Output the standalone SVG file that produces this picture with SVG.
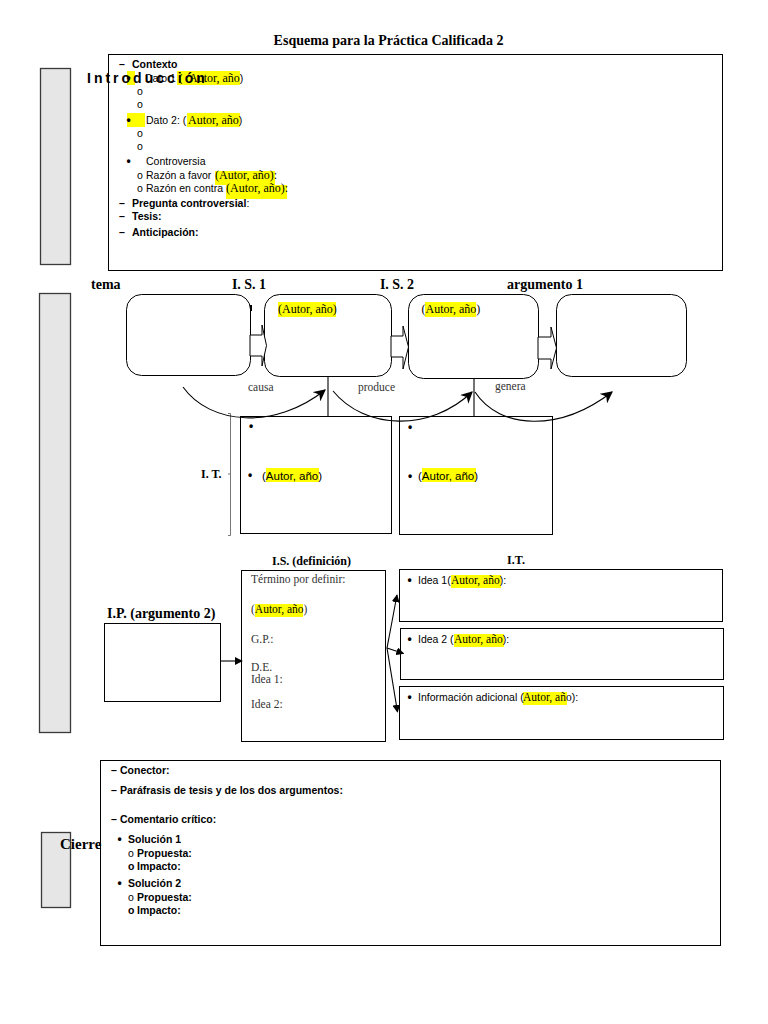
<svg xmlns="http://www.w3.org/2000/svg" width="768" height="1024" viewBox="0 0 768 1024">
<style>
.bar{fill:#e6e6e6;stroke:#3a3a3a;stroke-width:1.3}
.box{fill:#fff;stroke:#000;stroke-width:1}
.rbox{fill:#fff;stroke:#000;stroke-width:1}
.hl{fill:#ffff00}
.s{font-family:'Liberation Sans',Arial,sans-serif;font-size:10.5px;fill:#000}
.sb{font-family:'Liberation Sans',Arial,sans-serif;font-size:10.5px;font-weight:bold;fill:#000}
.sm{font-family:'Liberation Sans',Arial,sans-serif;font-size:11.5px;fill:#000}
.bu{font-family:'Liberation Sans',Arial,sans-serif;font-size:12px;font-weight:bold}
.r{font-family:'Liberation Serif','Times New Roman',serif;font-size:12px}
.rs{font-family:'Liberation Serif','Times New Roman',serif;font-size:11.5px}
.g{font-family:'Liberation Serif','Times New Roman',serif;font-size:11.5px;fill:#333}
.hd{font-family:'Liberation Serif','Times New Roman',serif;font-size:14px;font-weight:bold;fill:#000}
.hs{font-family:'Liberation Serif','Times New Roman',serif;font-size:12px;font-weight:bold;fill:#000}
.conn{fill:none;stroke:#000;stroke-width:1.1}
.blk{fill:#fff;stroke:#000;stroke-width:1}
.brk{fill:none;stroke:#777;stroke-width:1}
</style>
<defs>
<marker id="ah" viewBox="0 0 10 10" refX="9" refY="5" markerWidth="12" markerHeight="12" markerUnits="userSpaceOnUse" orient="auto">
<path d="M0,0 L10,5 L0,10 L3,5 z" fill="#000"/>
</marker>
<marker id="ah2" viewBox="0 0 10 10" refX="9" refY="5" markerWidth="8" markerHeight="8" markerUnits="userSpaceOnUse" orient="auto">
<path d="M0,0 L10,5 L0,10 z" fill="#000"/>
</marker>
</defs>
<rect width="768" height="1024" fill="#fff"/>

<text id="title" class="hd" x="388.5" y="45" text-anchor="middle">Esquema para la Práctica Calificada 2</text>

<g id="intro">
<rect class="bar" x="40.5" y="68.5" width="30" height="196"/>
<rect class="box" x="108.5" y="54.5" width="614" height="216"/>
<rect class="hl" x="127" y="71" width="8" height="14"/>
<rect class="hl" x="177" y="71" width="63" height="14"/>
<rect class="hl" x="127" y="113" width="18" height="14"/>
<rect class="hl" x="187" y="113" width="53" height="14"/>
<rect class="hl" x="215" y="171" width="60" height="14"/>
<rect class="hl" x="226" y="185" width="61" height="14"/>
<text class="sb" x="119" y="68">–<tspan x="132">Contexto</tspan></text>
<text class="s" x="145" y="82">Dato 1 (<tspan class="r" x="189">Autor, año</tspan>)</text>
<text class="bu" x="126.5" y="82">•</text>
<text class="s" x="137" y="95">o</text>
<text class="s" x="137" y="108">o</text>
<text class="bu" x="126.5" y="124">•</text>
<text class="s" x="146" y="124">Dato 2: (<tspan class="r" x="188">Autor, año</tspan>)</text>
<text class="s" x="137" y="137">o</text>
<text class="s" x="137" y="150">o</text>
<text class="bu" x="126.5" y="165">•</text>
<text class="s" x="146" y="165">Controversia</text>
<text class="s" x="137" y="179">o<tspan x="146">Razón a favor </tspan><tspan class="r" x="215">(Autor, año):</tspan></text>
<text class="s" x="137" y="192">o<tspan x="146">Razón en contra </tspan><tspan class="r" x="226">(Autor, año):</tspan></text>
<text class="sb" x="119" y="207">–<tspan x="132">Pregunta controversial</tspan><tspan font-weight="normal">:</tspan></text>
<text class="sb" x="119" y="220">–<tspan x="132">Tesis:</tspan></text>
<text class="sb" x="119" y="236">–<tspan x="132">Anticipación:</tspan></text>
<text x="87" y="83" font-family="'Liberation Sans',Arial,sans-serif" font-size="14" font-weight="bold" letter-spacing="3">Introducción</text>
</g>

<rect id="body-bar" class="bar" x="39.5" y="293.5" width="31" height="439"/>

<g id="headings">
<text class="hd" x="91" y="289">tema</text>
<text class="hd" x="249" y="289" text-anchor="middle">I. S. 1</text>
<text class="hd" x="397" y="289" text-anchor="middle">I. S. 2</text>
<text class="hd" x="545" y="289" text-anchor="middle">argumento 1</text>
</g>

<g id="tema-box">
<rect class="rbox" x="126.5" y="294.5" width="124" height="81" rx="15"/>
<rect x="250" y="305" width="2" height="6" fill="#000"/>
</g>
<g id="is1-box">
<rect class="rbox" x="264.5" y="294.5" width="127" height="82" rx="15"/>
<rect class="hl" x="278" y="302" width="58" height="15"/>
<text class="r" x="278" y="313">(Autor, año)</text>
</g>
<g id="is2-box">
<rect class="rbox" x="408.5" y="294.5" width="130" height="84" rx="15"/>
<rect class="hl" x="425" y="302" width="51" height="15"/>
<text class="r" x="421.5" y="313">(Autor, año)</text>
</g>
<g id="arg1-box">
<rect class="rbox" x="556.5" y="294.5" width="130" height="82" rx="15"/>
</g>

<g id="it1-box">
<rect class="box" x="240.5" y="416.5" width="151" height="117"/>
<text class="bu" x="249" y="430">•</text>
<text class="bu" x="248" y="479" font-size="14">•</text>
<rect class="hl" x="266" y="468" width="53" height="14"/>
<text class="sm" x="262" y="480">(Autor, año)</text>
</g>
<g id="it2-box">
<rect class="box" x="399.5" y="416.5" width="153" height="118"/>
<text class="bu" x="408" y="431">•</text>
<text class="bu" x="408" y="480">•</text>
<rect class="hl" x="422" y="468" width="54" height="14"/>
<text class="sm" x="418" y="480">(Autor, año)</text>
</g>
<g id="it-label">
<path class="brk" d="M228,413.5 H230.5 V535.5 H228 M230.5,474 H228"/>
<text class="hs" x="201" y="478">I. T.</text>
</g>

<g id="sec3-headings">
<text class="hs" x="311.5" y="565" text-anchor="middle">I.S. (definición)</text>
<text class="hs" x="516" y="564" text-anchor="middle">I.T.</text>
<text class="hd" x="107" y="618">I.P. (argumento 2)</text>
</g>
<g id="ip-box">
<rect class="box" x="104.5" y="623.5" width="116" height="78"/>
</g>
<g id="isdef-box">
<rect class="box" x="241.5" y="570.5" width="144" height="171"/>
<text class="g" x="251" y="583">Término por definir:</text>
<rect class="hl" x="255" y="604" width="48" height="13"/>
<text class="g" x="251" y="613">(<tspan fill="#000">Autor, año</tspan>)</text>
<text class="g" x="251" y="643">G.P.:</text>
<text class="g" x="251" y="671">D.E.</text>
<text class="g" x="251" y="683">Idea 1:</text>
<text class="g" x="251" y="708">Idea 2:</text>
</g>
<g id="it-idea1">
<rect class="box" x="399.5" y="569.5" width="323" height="52"/>
<rect class="hl" x="451" y="575" width="50" height="13"/>
<text class="bu" x="407.5" y="584">•</text>
<text class="s" x="418" y="584">Idea 1(<tspan class="rs" x="451">Autor, año</tspan>):</text>
</g>
<g id="it-idea2">
<rect class="box" x="400.5" y="628.5" width="323" height="51"/>
<rect class="hl" x="454" y="634" width="50" height="13"/>
<text class="bu" x="407.5" y="643">•</text>
<text class="s" x="418" y="643">Idea 2 (<tspan class="rs" x="454">Autor, año</tspan>):</text>
</g>
<g id="it-info">
<rect class="box" x="399.5" y="686.5" width="324" height="53"/>
<rect class="hl" x="523" y="692" width="44" height="13"/>
<text class="bu" x="407.5" y="701">•</text>
<text class="s" x="418" y="701">Información adicional (<tspan class="rs" x="523">Autor, año</tspan>):</text>
</g>

<g id="cierre">
<rect class="bar" x="41.5" y="832.5" width="29" height="75"/>
<rect class="box" x="100.5" y="760.5" width="620" height="185"/>
<text class="sb" x="111" y="774">–<tspan x="120">Conector:</tspan></text>
<text class="sb" x="111" y="794">–<tspan x="120">Paráfrasis de tesis y de los dos argumentos:</tspan></text>
<text class="sb" x="111" y="823">–<tspan x="120">Comentario crítico:</tspan></text>
<text class="bu" x="117.5" y="843">•</text>
<text class="sb" x="128" y="843">Solución 1</text>
<text class="s" x="128" y="857">o<tspan class="sb" x="137">Propuesta:</tspan></text>
<text class="sb" x="128" y="870">o<tspan x="137">Impacto:</tspan></text>
<text class="bu" x="117.5" y="887">•</text>
<text class="sb" x="128" y="887">Solución 2</text>
<text class="s" x="128" y="901">o<tspan class="sb" x="137">Propuesta:</tspan></text>
<text class="sb" x="128" y="914">o<tspan x="137">Impacto:</tspan></text>
<text x="60" y="849" font-family="'Liberation Serif','Times New Roman',serif" font-size="15" font-weight="bold">Cierre</text>
</g>

<g id="connectors">
<polygon class="blk" points="250,335 262,335 262,325 266.5,345.5 262,366 262,356 250,356"/>
<polygon class="blk" points="391,336 403,336 403,326 408.5,347 403,369 403,357 391,357"/>
<polygon class="blk" points="538,337 551,337 551,327 556.5,348 551,369 551,359 538,359"/>
<line class="conn" x1="328" y1="377" x2="328" y2="416"/>
<line class="conn" x1="474" y1="379" x2="474" y2="416"/>
<path class="conn" d="M183,387 C210,425 275,430 325,390" marker-end="url(#ah)"/>
<path class="conn" d="M333,391 C365,430 430,432 472,392" marker-end="url(#ah)"/>
<path class="conn" d="M475,392 C500,430 560,432 612,392" marker-end="url(#ah)"/>
<text class="g" x="248" y="391" font-size="12">causa</text>
<text class="g" x="358" y="391" font-size="12">produce</text>
<text class="g" x="495" y="390" font-size="12">genera</text>
<line class="conn" x1="221" y1="661" x2="242" y2="661" marker-end="url(#ah2)"/>
<line class="conn" x1="387" y1="648" x2="397" y2="595" marker-end="url(#ah2)"/>
<line class="conn" x1="387" y1="648" x2="403.5" y2="653.5" marker-end="url(#ah2)"/>
<line class="conn" x1="387" y1="648" x2="397.5" y2="712" marker-end="url(#ah2)"/>
</g>
</svg>
